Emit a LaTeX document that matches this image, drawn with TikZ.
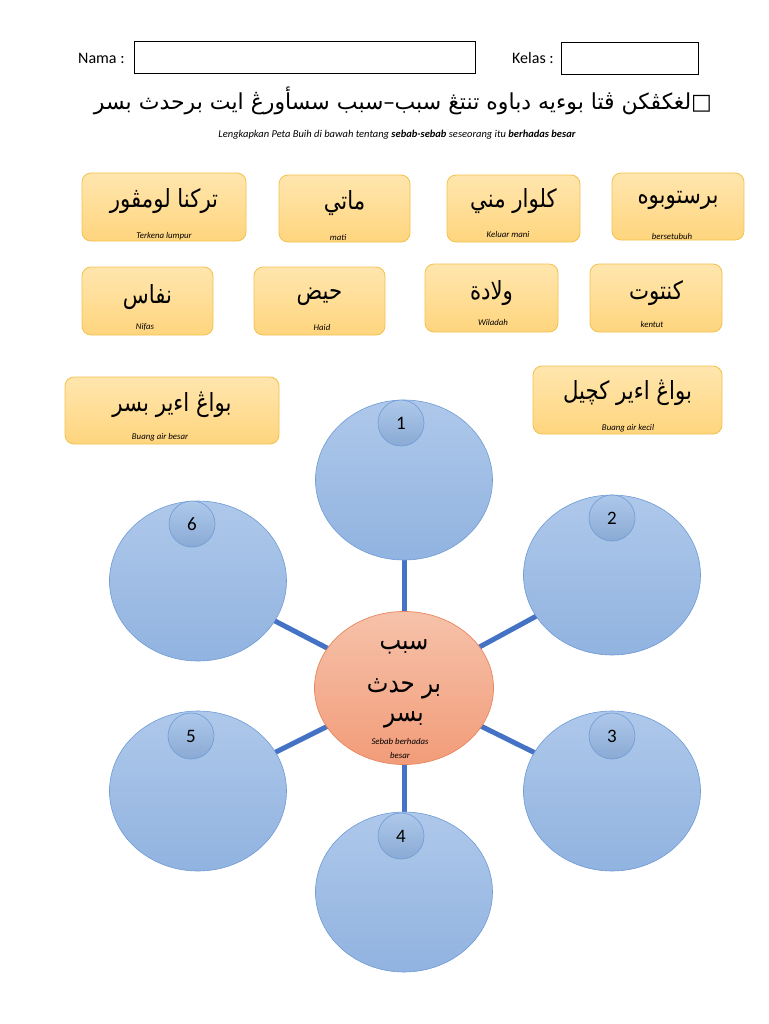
\documentclass[tikz,border=0pt]{standalone}
\usepackage{fontspec}
\setmainfont{Carlito}
\newfontfamily\arabicfont[Script=Arabic]{DejaVu Sans}
\TeXXeTstate=1
\usetikzlibrary{backgrounds,shapes.geometric}
\definecolor{orborder}{HTML}{F2C14E}
\definecolor{ortop}{HTML}{FFE6AE}
\definecolor{orbot}{HTML}{FFD57E}
\definecolor{blborder}{HTML}{6E9AD6}
\definecolor{bltop}{HTML}{AEC8EA}
\definecolor{blbot}{HTML}{91B3E0}
\definecolor{cttop}{HTML}{F6C2AA}
\definecolor{ctbot}{HTML}{F29C79}
\definecolor{ctborder}{HTML}{E8865E}
\definecolor{linkblue}{HTML}{4472C4}
\newcommand{\ar}[1]{\scalebox{0.85}[1]{\beginR #1\endR}}
\tikzset{
  wordbox/.style={draw=orborder, line width=0.8pt, rounded corners=9pt, top color=ortop, bottom color=orbot, inner sep=0pt},
  artext/.style={font=\arabicfont\fontsize{25}{27}\selectfont, inner sep=0pt},
  centretext/.style={font=\arabicfont\fontsize{27}{29}\selectfont, inner sep=0pt},
  caption/.style={font=\itshape\fontsize{8.8}{9}\selectfont, inner sep=0pt},
  bubble/.style={ellipse, draw=blborder, line width=0.6pt, top color=bltop, bottom color=blbot, minimum width=177pt, minimum height=160pt, inner sep=0pt},
  numcirc/.style={circle, draw=blborder, line width=0.6pt, top color=bltop, bottom color=blbot!95!black, minimum size=46pt, inner sep=0pt, font=\fontsize{19}{19}\selectfont},
  link/.style={draw=linkblue, line width=5pt},
  fieldbox/.style={draw=black, line width=1pt, inner sep=0pt}
}
\begin{document}
\begin{tikzpicture}[x=1pt,y=-1pt]
\useasboundingbox (0,0) rectangle (768,1024);
% header
\node[anchor=west, inner sep=0pt, font=\fontsize{16}{16}\selectfont] (namalbl) at (78,58) {Nama :};
\node[fieldbox, minimum width=341pt, minimum height=32pt] (namabox) at (304.5,58) {};
\node[anchor=west, inner sep=0pt, font=\fontsize{16}{16}\selectfont] (kelaslbl) at (512,58) {Kelas :};
\node[fieldbox, minimum width=137pt, minimum height=32pt] (kelasbox) at (629.5,59) {};
\node[font=\arabicfont\fontsize{22}{24}\selectfont, inner sep=0pt] (title) at (403,101) {\beginR □لغكڤكن ڤتا بوءيه دباوه تنتڠ سبب–سبب سسأورڠ ايت برحدث بسر\endR};
\node[font=\itshape\fontsize{10.5}{11}\selectfont, inner sep=0pt] (subtitle) at (397,135) {Lengkapkan Peta Buih di bawah tentang \textbf{sebab-sebab} seseorang itu \textbf{berhadas besar}};
% word boxes row 1
\node[wordbox, minimum width=164pt, minimum height=68pt] (b1) at (164,207) {};
\node[artext] (b1a) at (164,201) {\ar{تركنا لومڤور}};
\node[caption] (b1c) at (164,236) {Terkena lumpur};
\node[wordbox, minimum width=131pt, minimum height=67pt] (b2) at (344.5,208.5) {};
\node[artext] (b2a) at (344.5,203) {\ar{ماتي}};
\node[caption] (b2c) at (338,237) {mati};
\node[wordbox, minimum width=133pt, minimum height=67pt] (b3) at (513.5,208.5) {};
\node[artext] (b3a) at (513.5,201) {\ar{كلوار مني}};
\node[caption] (b3c) at (508,234) {Keluar mani};
\node[wordbox, minimum width=132pt, minimum height=67pt] (b4) at (678,206.5) {};
\node[artext] (b4a) at (678,200) {\ar{برستوبوه}};
\node[caption] (b4c) at (672,236) {bersetubuh};
% row 2
\node[wordbox, minimum width=131pt, minimum height=68pt] (b5) at (147.5,301) {};
\node[artext] (b5a) at (147.5,297) {\ar{نفاس}};
\node[caption] (b5c) at (145,327) {Nifas};
\node[wordbox, minimum width=131pt, minimum height=68pt] (b6) at (319.5,301) {};
\node[artext] (b6a) at (319.5,297) {\ar{حيض}};
\node[caption] (b6c) at (322,327) {Haid};
\node[wordbox, minimum width=133pt, minimum height=68pt] (b7) at (491.5,298) {};
\node[artext] (b7a) at (491.5,293) {\ar{ولادة}};
\node[caption] (b7c) at (493,322) {Wiladah};
\node[wordbox, minimum width=132pt, minimum height=68pt] (b8) at (656,298) {};
\node[artext] (b8a) at (656,293) {\ar{كنتوت}};
\node[caption] (b8c) at (652,324) {kentut};
% row 3
\node[wordbox, minimum width=214pt, minimum height=67pt] (b9) at (172,410.5) {};
\node[artext] (b9a) at (172,405) {\ar{بواڠ اءير بسر}};
\node[caption] (b9c) at (160,437) {Buang air besar};
\node[wordbox, minimum width=189pt, minimum height=68pt] (b10) at (627.5,400) {};
\node[artext] (b10a) at (627.5,393) {\ar{بواڠ اءير كچيل}};
\node[caption] (b10c) at (628,428) {Buang air kecil};
% bubble map
\node[ellipse, draw=ctborder, line width=0.7pt, minimum width=179pt, minimum height=153pt, inner sep=0pt, top color=cttop, bottom color=ctbot] (centre) at (404,688) {};
\node[bubble] (c1) at (404,480) {};
\node[bubble] (c2) at (612,575) {};
\node[bubble] (c3) at (612,791) {};
\node[bubble] (c4) at (404,892) {};
\node[bubble] (c5) at (198,791) {};
\node[bubble] (c6) at (198,581) {};
\begin{scope}[on background layer]
  \foreach \c in {c1,c2,c3,c4,c5,c6} \draw[link] (centre.center) -- (\c.center);
\end{scope}
\node[numcirc] (n1) at (401,423) {1};
\node[numcirc] (n2) at (612,518) {2};
\node[numcirc] (n3) at (612,736) {3};
\node[numcirc] (n4) at (401,836) {4};
\node[numcirc] (n5) at (191,736) {5};
\node[numcirc] (n6) at (192,524) {6};
\node[centretext] (ct1) at (404,647) {\ar{سبب}};
\node[centretext] (ct2) at (404,689) {\ar{بر حدث}};
\node[centretext] (ct3) at (404,720) {\ar{بسر}};
\node[caption] (ct4) at (400,741) {Sebab berhadas};
\node[caption] (ct5) at (400,755) {besar};
\end{tikzpicture}
\end{document}
